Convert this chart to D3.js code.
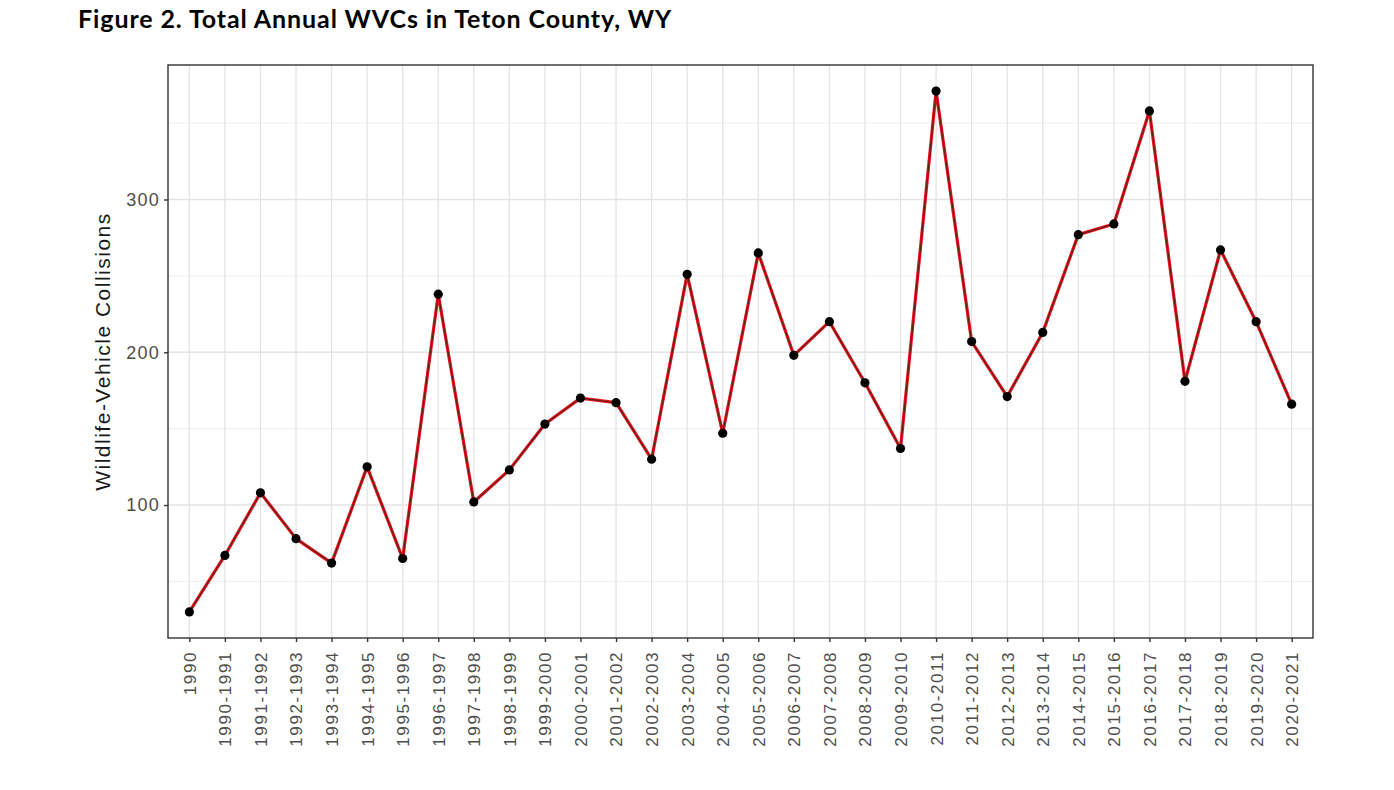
<!DOCTYPE html>
<html>
<head>
<meta charset="utf-8">
<script src="https://d3js.org/d3.v7.min.js"></script>
<style>
  body { margin: 0; background: #fff; }
  svg { display: block; }
</style>
</head>
<body>
<div id="chart"></div>
<script>
    // seasons on the x axis
    var seasons = ["1990", "1990-1991", "1991-1992", "1992-1993", "1993-1994", "1994-1995",
        "1995-1996", "1996-1997", "1997-1998", "1998-1999", "1999-2000", "2000-2001",
        "2001-2002", "2002-2003", "2003-2004", "2004-2005", "2005-2006", "2006-2007",
        "2007-2008", "2008-2009", "2009-2010", "2010-2011", "2011-2012", "2012-2013",
        "2013-2014", "2014-2015", "2015-2016", "2016-2017", "2017-2018", "2018-2019",
        "2019-2020", "2020-2021"];

    // total wildlife-vehicle collisions per season
    var collisions = [30, 67, 108, 78, 62, 125, 65, 238, 102, 123, 153, 170,
        167, 130, 251, 147, 265, 198, 220, 180, 137, 371, 207, 171,
        213, 277, 284, 358, 181, 267, 220, 166];

    var yTicks = [100, 200, 300];
    var yMinor = [50, 150, 250, 350];

    var W = 1394, H = 790;
    var panel = { left: 168, top: 65, right: 1313, bottom: 638 };

    var svg = d3.select("#chart")
        .append("svg")
        .attr("width", W)
        .attr("height", H);

    // title
    svg.append("text")
        .attr("x", 78)
        .attr("y", 28)
        .style("font-family", "Lato, 'Open Sans', sans-serif")
        .style("font-weight", "bold")
        .style("font-size", "25px")
        .style("letter-spacing", "0.9px")
        .style("fill", "#000")
        .text("Figure 2. Total Annual WVCs in Teton County, WY");

    var x = d3.scalePoint()
        .domain(seasons)
        .range([panel.left, panel.right])
        .padding(0.6);

    // ggplot style 5% expansion of the data range
    var lo = d3.min(collisions), hi = d3.max(collisions);
    var pad = (hi - lo) * 0.05;
    var y = d3.scaleLinear()
        .domain([lo - pad, hi + pad])
        .range([panel.bottom, panel.top]);

    var grid = svg.append("g");

    grid.selectAll(".minor")
        .data(yMinor)
        .join("line")
        .attr("x1", panel.left).attr("x2", panel.right)
        .attr("y1", d => y(d)).attr("y2", d => y(d))
        .attr("stroke", "#efefef")
        .attr("stroke-width", 1);

    grid.selectAll(".major")
        .data(yTicks)
        .join("line")
        .attr("x1", panel.left).attr("x2", panel.right)
        .attr("y1", d => y(d)).attr("y2", d => y(d))
        .attr("stroke", "#e4e4e4")
        .attr("stroke-width", 1.3);

    grid.selectAll(".vert")
        .data(seasons)
        .join("line")
        .attr("x1", d => x(d)).attr("x2", d => x(d))
        .attr("y1", panel.top).attr("y2", panel.bottom)
        .attr("stroke", "#e4e4e4")
        .attr("stroke-width", 1.3);

    var line = d3.line()
        .x((d, i) => x(seasons[i]))
        .y(d => y(d));

    // red line with a darker core
    svg.append("path")
        .datum(collisions)
        .attr("d", line)
        .attr("fill", "none")
        .attr("stroke", "#e8141a")
        .attr("stroke-width", 3.2)
        .attr("stroke-linejoin", "round");

    svg.append("path")
        .datum(collisions)
        .attr("d", line)
        .attr("fill", "none")
        .attr("stroke", "#5e1c1c")
        .attr("stroke-width", 1.1)
        .attr("stroke-linejoin", "round");

    svg.selectAll(".pt")
        .data(collisions)
        .join("circle")
        .attr("cx", (d, i) => x(seasons[i]))
        .attr("cy", d => y(d))
        .attr("r", 4.6)
        .attr("fill", "#000");

    // panel border
    svg.append("rect")
        .attr("x", panel.left)
        .attr("y", panel.top)
        .attr("width", panel.right - panel.left)
        .attr("height", panel.bottom - panel.top)
        .attr("fill", "none")
        .attr("stroke", "#333")
        .attr("stroke-width", 1.4);

    // y axis
    var yAxis = svg.append("g")
        .attr("transform", "translate(" + panel.left + ",0)")
        .call(d3.axisLeft(y).tickValues(yTicks).tickSize(4).tickPadding(4));
    yAxis.select(".domain").remove();
    yAxis.selectAll(".tick line").attr("stroke", "#333").attr("stroke-width", 1.4);
    yAxis.selectAll(".tick text")
        .style("font-family", "'Liberation Sans', Arial, sans-serif")
        .style("font-size", "18px")
        .style("letter-spacing", "1.2px")
        .style("fill", "#4d4d4d");

    // x axis
    var xAxis = svg.append("g")
        .attr("transform", "translate(0," + panel.bottom + ")")
        .call(d3.axisBottom(x).tickSize(4).tickPadding(0));
    xAxis.select(".domain").remove();
    xAxis.selectAll(".tick line").attr("stroke", "#333").attr("stroke-width", 1.4);
    xAxis.selectAll(".tick text")
        .attr("transform", "rotate(-90)")
        .attr("x", -13)
        .attr("y", 0)
        .attr("dy", "0.35em")
        .style("text-anchor", "end")
        .style("font-family", "'Liberation Sans', Arial, sans-serif")
        .style("font-size", "17px")
        .style("letter-spacing", "1.6px")
        .style("fill", "#4d4d4d");

    // y title
    svg.append("text")
        .attr("transform", "translate(110," + ((panel.top + panel.bottom) / 2) + ") rotate(-90)")
        .style("text-anchor", "middle")
        .style("font-family", "'Liberation Sans', Arial, sans-serif")
        .style("font-size", "21px")
        .style("letter-spacing", "1.5px")
        .style("fill", "#1a1a1a")
        .text("Wildlife-Vehicle Collisions");
</script>
</body>
</html>
